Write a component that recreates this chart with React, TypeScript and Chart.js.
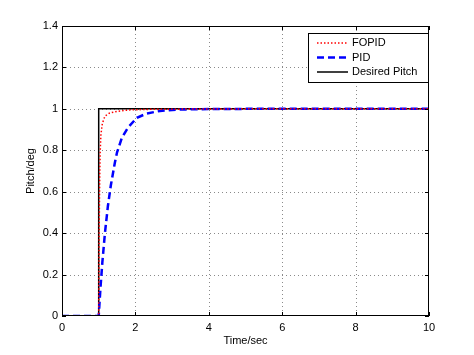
import React, { useEffect, useRef } from "react";
import { Chart, registerables } from "chart.js";

Chart.register(...registerables);

const fopidTime = [0, 1, 1.005, 1.01, 1.02, 1.03, 1.04, 1.06, 1.1, 1.17, 1.3, 1.5, 1.85, 2.5, 3.5, 5, 10];
const fopidValue = [0, 0, 0.2, 0.35, 0.55, 0.7, 0.79, 0.875, 0.93, 0.965, 0.98, 0.988, 0.995, 0.998, 0.999, 1, 1];

const pidTime = [0, 1, 1.05, 1.1, 1.17, 1.25, 1.33, 1.44, 1.5, 1.63, 1.8, 2.04, 2.3, 2.67, 3.2, 4, 5, 10];
const pidValue = [0, 0, 0.14, 0.26, 0.4, 0.53, 0.63, 0.74, 0.79, 0.86, 0.91, 0.957, 0.977, 0.99, 0.997, 0.999, 1, 1];

const stepTime = [0, 1, 1, 10];
const stepValue = [0, 0, 1, 1];

const seriesLabels = ["FOPID", "PID", "Desired Pitch"];
const xTicks = [0, 2, 4, 6, 8, 10];
const yTicks = [0, 0.2, 0.4, 0.6, 0.8, 1, 1.2, 1.4];

const FONT = "'Liberation Sans', Arial, sans-serif";

const toPts = (xs: number[], ys: number[]) => xs.map((x, i) => ({ x, y: ys[i] }));

export default function App() {
  const ref = useRef<HTMLCanvasElement>(null);
  useEffect(() => {
    if (!ref.current) return;
    const boxPlugin = {
      id: "matlabBox",
      beforeDatasetsDraw(chart: any) {
        const { ctx, chartArea: a, scales } = chart;
        ctx.save();
        ctx.strokeStyle = "#8a8a8a";
        ctx.lineWidth = 1;
        ctx.setLineDash([1, 3]);
        ctx.beginPath();
        for (const v of xTicks.slice(1, -1)) {
          const px = Math.round(scales.x.getPixelForValue(v)) + 0.5;
          ctx.moveTo(px, a.top);
          ctx.lineTo(px, a.bottom);
        }
        for (const v of yTicks.slice(1, -1)) {
          const py = Math.round(scales.y.getPixelForValue(v)) + 0.5;
          ctx.moveTo(a.left, py);
          ctx.lineTo(a.right, py);
        }
        ctx.stroke();
        ctx.restore();
      },
      afterDatasetsDraw(chart: any) {
        const { ctx, chartArea: a, scales } = chart;
        ctx.save();
        ctx.strokeStyle = "#000";
        ctx.lineWidth = 1;
        ctx.setLineDash([]);
        ctx.strokeRect(a.left + 0.5, a.top + 0.5, a.right - a.left - 1, a.bottom - a.top - 1);
        const tl = 4;
        ctx.beginPath();
        for (const v of xTicks) {
          const px = Math.round(scales.x.getPixelForValue(v)) + 0.5;
          ctx.moveTo(px, a.bottom);
          ctx.lineTo(px, a.bottom - tl);
          ctx.moveTo(px, a.top);
          ctx.lineTo(px, a.top + tl);
        }
        for (const v of yTicks) {
          const py = Math.round(scales.y.getPixelForValue(v)) + 0.5;
          ctx.moveTo(a.left, py);
          ctx.lineTo(a.left + tl, py);
          ctx.moveTo(a.right, py);
          ctx.lineTo(a.right - tl, py);
        }
        ctx.stroke();

        // legend
        const lx = 308, ly = 33, lw = 120, lh = 49;
        ctx.fillStyle = "#fff";
        ctx.fillRect(lx, ly, lw, lh);
        ctx.strokeStyle = "#000";
        ctx.strokeRect(lx + 0.5, ly + 0.5, lw, lh);
        chart.data.datasets.forEach((ds: any, i: number) => {
          const y = 43 + i * 14.5;
          ctx.beginPath();
          ctx.strokeStyle = ds.borderColor;
          ctx.lineWidth = ds.borderWidth;
          ctx.setLineDash(ds.borderDash || []);
          ctx.moveTo(317, y);
          ctx.lineTo(348, y);
          ctx.stroke();
          ctx.setLineDash([]);
          ctx.fillStyle = "#000";
          ctx.font = `11px ${FONT}`;
          ctx.textBaseline = "middle";
          ctx.textAlign = "left";
          ctx.fillText(ds.label, 352, y);
        });
        ctx.restore();
      },
    };

    const chart = new Chart(ref.current, {
      type: "line",
      data: {
        datasets: [
          {
            label: seriesLabels[0],
            data: toPts(fopidTime, fopidValue),
            borderColor: "#ff0000",
            borderWidth: 1.5,
            borderDash: [1.5, 2],
            pointRadius: 0,
            tension: 0,
            fill: false,
          },
          {
            label: seriesLabels[1],
            data: toPts(pidTime, pidValue),
            borderColor: "#0000ff",
            borderWidth: 2.5,
            borderDash: [7, 4],
            pointRadius: 0,
            tension: 0,
            fill: false,
          },
          {
            label: seriesLabels[2],
            data: toPts(stepTime, stepValue),
            borderColor: "#000000",
            borderWidth: 1.5,
            pointRadius: 0,
            tension: 0,
            fill: false,
          },
        ],
      },
      options: {
        responsive: false,
        animation: false,
        layout: { padding: { left: 24, top: 26, right: 45, bottom: 0 } },
        plugins: { legend: { display: false }, tooltip: { enabled: false } },
        scales: {
          x: {
            type: "linear",
            min: 0,
            max: 10,
            afterBuildTicks: (s: any) => {
              s.ticks = xTicks.map((v) => ({ value: v }));
            },
            afterFit: (s: any) => {
              s.height = 39;
            },
            ticks: { color: "#000", font: { family: FONT, size: 11 }, padding: 5, maxRotation: 0 },
            grid: { display: false, drawTicks: false },
            border: { display: false },
            title: { display: true, text: "Time/sec", color: "#000", font: { family: FONT, size: 11 }, padding: { top: 0, bottom: 7 } },
          },
          y: {
            type: "linear",
            min: 0,
            max: 1.4,
            afterBuildTicks: (s: any) => {
              s.ticks = yTicks.map((v) => ({ value: v }));
            },
            afterFit: (s: any) => {
              s.width = 38;
            },
            ticks: {
              color: "#000",
              font: { family: FONT, size: 11 },
              padding: 4,
              callback: (v: any) => String(Number(Number(v).toFixed(1))),
            },
            grid: { display: false, drawTicks: false },
            border: { display: false },
            title: { display: true, text: "Pitch/deg", color: "#000", font: { family: FONT, size: 11 }, padding: { top: 0, bottom: 0 } },
          },
        },
      },
      plugins: [boxPlugin],
    } as any);
    return () => chart.destroy();
  }, []);
  return (
    <div style={{ position: "fixed", left: 0, top: 0, width: 474, height: 355, background: "#fff" }}>
      <canvas ref={ref} width={474} height={355} style={{ display: "block", width: 474, height: 355 }} />
    </div>
  );
}
